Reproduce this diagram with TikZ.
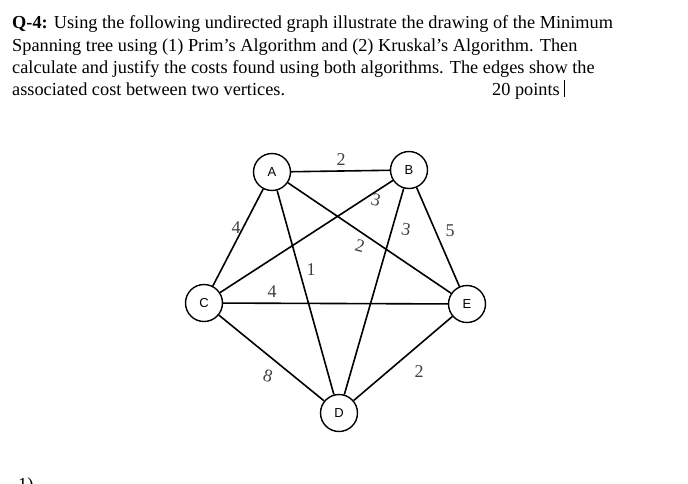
\documentclass[tikz,border=0pt]{standalone}
\usepackage{fontspec}
\setmainfont{Liberation Serif}
\newfontfamily\lab{Liberation Sans}
\begin{document}
\begin{tikzpicture}[x=1pt,y=-1pt,
  vert/.style={circle,draw,line width=1.4pt,minimum size=37pt,inner sep=0pt,font=\lab\fontsize{13}{14}\selectfont},
  edge/.style={line width=1.6pt},
  wt/.style={font=\fontsize{18}{18}\selectfont,text=black!75,inner sep=0pt},
  txt/.style={anchor=base west,inner sep=0pt,font=\fontsize{18.3}{20}\selectfont}]
\useasboundingbox (0,0) rectangle (688,483);
\node[txt] (l1) at (12,28) {\textbf{Q-4:} Using the following undirected graph illustrate the drawing of the Minimum};
\node[txt] (l2) at (12,51) {Spanning tree using (1) Prim’s Algorithm and (2) Kruskal’s Algorithm. Then};
\node[txt] (l3) at (12,73) {calculate and justify the costs found using both algorithms. The edges show the};
\node[txt] (l4) at (12,95) {associated cost between two vertices.};
\node[txt] (l5) at (492,95) {20 points};
\draw (564,80) -- (564,97);
\node[txt] (l6) at (18,490) {1)};
\node[vert] (A) at (272,172) {A};
\node[vert] (B) at (409,170) {B};
\node[vert] (C) at (204,303) {C};
\node[vert] (E) at (467,304) {E};
\node[vert] (D) at (339,413) {D};
\draw[edge] (A)--(B) (A)--(C) (A)--(D) (A)--(E) (B)--(C) (B)--(D) (B)--(E) (C)--(E) (C)--(D) (D)--(E);
\node[wt] (w1) at (341,160) {2};
\node[wt,rotate=-15] (w2) at (376,200) {3};
\node[wt] (w3) at (236,228) {4};
\node[wt,rotate=-10] (w4) at (406,229) {3};
\node[wt] (w5) at (450,231) {5};
\node[wt,rotate=-15] (w6) at (360,246) {2};
\node[wt] (w7) at (311,270) {1};
\node[wt] (w8) at (272,292) {4};
\node[wt,rotate=-15] (w9) at (268,376) {8};
\node[wt] (w10) at (419,372) {2};
\end{tikzpicture}
\end{document}
